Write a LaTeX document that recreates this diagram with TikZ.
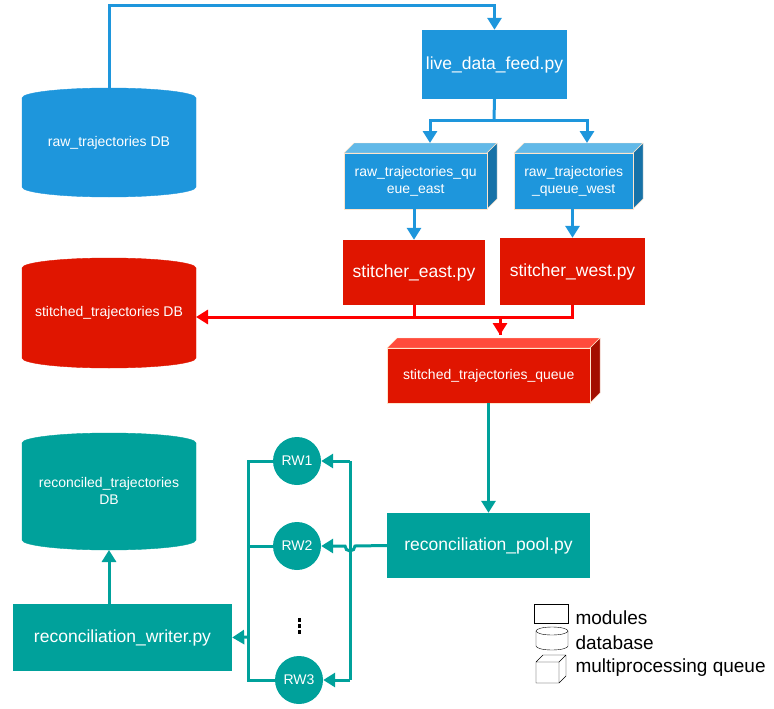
\documentclass[tikz,border=0pt]{standalone}
\usepackage{fontspec}
\setmainfont{Liberation Sans}
\usetikzlibrary{arrows.meta}
\definecolor{bl}{HTML}{1E96DC}\definecolor{bltop}{HTML}{62B9E8}\definecolor{blside}{HTML}{1672A8}
\definecolor{rd}{HTML}{E01500}\definecolor{rdtop}{HTML}{FF4B3C}\definecolor{rdside}{HTML}{A30F00}
\definecolor{tl}{HTML}{00A19B}
\tikzset{
 mod/.style={draw=none,fill=#1,text=white,minimum height=65pt,font=\fontsize{17.5}{20}\selectfont,inner sep=2pt},
 rw/.style={circle,fill=tl,text=white,minimum size=48pt,inner sep=0pt,font=\fontsize{14}{16}\selectfont},
 ln/.style={line width=3pt,draw=#1},
 ar/.style={ln=#1,-{Triangle[length=12pt,width=14pt]}},
 lg/.style={font=\fontsize{19}{21}\selectfont,anchor=west},
 tx/.style={text=white,font=\fontsize{14}{17}\selectfont,align=center},
}
% name, x1,y1(top),x2,y2(bottom), ry, fill, draw
\newcommand{\cyl}[8]{%
 \path[fill=#7,draw=#8] (#2,#3) -- (#2,#5) arc[start angle=180,end angle=0,x radius={(#4-#2)/2},y radius=#6] -- (#4,#3) arc[start angle=0,end angle=-180,x radius={(#4-#2)/2},y radius=#6] -- cycle;
 \path[draw=#8] (#2,#3) arc[start angle=180,end angle=0,x radius={(#4-#2)/2},y radius=#6];
 \coordinate (#1) at ({(#2+#4)/2},{(#3+#5)/2});
 \coordinate (#1-n) at ({(#2+#4)/2},#3-#6);
 \coordinate (#1-s) at ({(#2+#4)/2},#5+#6);
 \coordinate (#1-e) at (#4,{(#3+#5)/2});
}
\newcommand{\qbox}[8]{%
 \fill[#7,draw=orange!20,line width=0.4pt] (#2,#3)--(#2+10,#3-10)--(#4+10,#3-10)--(#4,#3)--cycle;
 \fill[#8,draw=orange!20,line width=0.4pt] (#4,#3)--(#4+10,#3-10)--(#4+10,#5-10)--(#4,#5)--cycle;
 \node[fill=#6,draw=orange!20,line width=0.4pt,minimum width={#4-#2},minimum height={#5-#3},inner sep=0pt,anchor=north west] (#1) at (#2,#3) {};
}
\begin{document}
\begin{tikzpicture}[x=1pt,y=-1pt]
\useasboundingbox (0,0) rectangle (774,709);
% raw / live
\cyl{rawdb}{22}{98}{196}{187}{10}{bl}{bl}
\node[tx] at (rawdb) {raw\_trajectories DB};
\node[mod=bl,minimum width=145pt,minimum height=69pt] (live) at (494.5,64.5) {live\_data\_feed.py};
\coordinate (c1) at (109,6);
\draw[ar=bl] (rawdb-n) |- (c1) -| (live.north);
% queues
\qbox{qe}{344}{153}{487}{209}{bl}{bltop}{blside}
\node[tx] at (qe.center) {raw\_trajectories\_qu\\eue\_east};
\qbox{qw}{514}{153}{633}{209}{bl}{bltop}{blside}
\node[tx] at (qw.center) {raw\_trajectories\\\_queue\_west};
\coordinate (sp) at (494,120);
\coordinate (qet) at (430,143);
\coordinate (qwt) at (587,143);
\draw[ln=bl] (live.south) -- (sp);
\draw[ar=bl] (sp) -| (qet);
\draw[ar=bl] (sp) -| (qwt);
% stitchers
\node[mod=rd,minimum width=142pt] (se) at (414,272.5) {stitcher\_east.py};
\node[mod=rd,minimum width=145pt,minimum height=67pt] (sw) at (572.5,271.5) {stitcher\_west.py};
\draw[ar=bl] (qe.south -| se.north) -- (se.north);
\draw[ar=bl] (qw.south -| sw.north) -- (sw.north);
\cyl{stdb}{22}{268}{196}{358}{10}{rd}{rd}
\node[tx] at (stdb) {stitched\_trajectories DB};
\qbox{sq}{387}{348}{590}{403}{rd}{rdtop}{rdside}
\node[tx] at (sq.center) {stitched\_trajectories\_queue};
\coordinate (rj) at (se.south |- 0,317);
\coordinate (sqt) at (500,335);
\draw[ar=red] (se.south) -- (rj) -- (stdb-e |- rj);
\draw[ln=red] (rj) -| (sqt);
\draw[ar=red] (sw.south) |- (500,317) -- (sqt);
% reconciliation
\node[mod=tl,minimum width=203pt] (pool) at (488.5,545.5) {reconciliation\_pool.py};
\draw[ar=tl] (sq.south -| pool.north) -- (pool.north);
\cyl{rcdb}{22}{443}{196}{540}{10}{tl}{tl}
\node[tx,anchor=north] at (109,474) {reconciled\_trajectories\\DB};
\node[mod=tl,minimum width=219pt,minimum height=67pt] (wr) at (122.5,637.5) {reconciliation\_writer.py};
\draw[ar=tl] (wr.north -| rcdb-s) -- (rcdb-s);
\node[rw] (r1) at (297,461) {RW1};
\node[rw] (r2) at (297,546) {RW2};
\node[rw] (r3) at (299,680) {RW3};
\foreach \yy in {618,624,630} \fill (297.5,\yy) rectangle +(3.5,4);
\coordinate (rt) at (350,461); \coordinate (rb) at (350,680);
\draw[ln=tl] (rt) -- (rb);
\draw[ar=tl] (rt) -- (r1);
\draw[ar=tl] (rb) -- (r3);
\draw[ar=tl] (pool.west) -- (355,546) arc (0:180:5) -- (r2);
\coordinate (lt) at (248,461); \coordinate (lb) at (248,680);
\draw[ln=tl] (r1) -- (lt) -- (lb) -- (r3);
\draw[ln=tl] (r2) -- (lt |- r2);
\draw[ar=tl] (248,637) -- (wr.east);
% legend
\node[draw,minimum width=34pt,minimum height=19pt,inner sep=0pt] (lm) at (551,613.5) {};
\node[lg] at (572,618) {modules};
\cyl{ld}{536}{631}{568}{646}{4}{white}{black}
\node[lg] at (572,643) {database};
\draw[fill=white] (536,662)--(543,655)--(566,655)--(566,676)--(559,683)--(536,683)--cycle (536,662)--(559,662)--(566,655) (559,662)--(559,683);
\node[lg] (lq) at (572,668) {multiprocessing queue};
\end{tikzpicture}
\end{document}
